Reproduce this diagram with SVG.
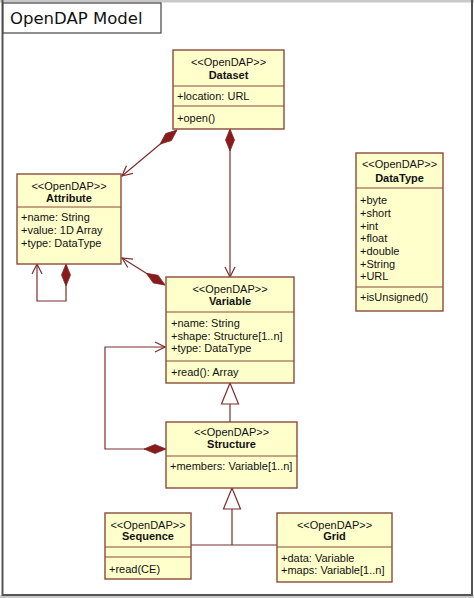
<svg xmlns="http://www.w3.org/2000/svg" width="474" height="598" viewBox="0 0 474 598">
<style>
.box{fill:#FFFFCC;stroke:#8a4b3b;stroke-width:1.4}
.sep{stroke:#8a4b3b;stroke-width:1.2}
.st{font-family:"Liberation Sans",Arial,sans-serif;font-size:11px;fill:#111;text-anchor:middle}
.nm{font-family:"Liberation Sans",Arial,sans-serif;font-size:11px;font-weight:bold;fill:#111;text-anchor:middle}
.at{font-family:"Liberation Sans",Arial,sans-serif;font-size:11px;fill:#111}
.ln{fill:none;stroke:#7a2e2e;stroke-width:1.2}
</style>
<defs>
<marker id="dia" viewBox="0 -5 22 10" refX="0" refY="0" markerWidth="22" markerHeight="10" markerUnits="userSpaceOnUse" orient="auto">
<path d="M0,0 L11,-4.5 L22,0 L11,4.5 Z" fill="#8b1a1a" stroke="#7a2e2e" stroke-width="0.8"/>
</marker>
<marker id="arr" viewBox="-12 -6 13 12" refX="0" refY="0" markerWidth="13" markerHeight="12" markerUnits="userSpaceOnUse" orient="auto">
<path d="M-10,-5 L0,0 L-10,5" fill="none" stroke="#7a2e2e" stroke-width="1.2"/>
</marker>
<marker id="tri" viewBox="-23 -10 24 20" refX="0" refY="0" markerWidth="24" markerHeight="20" markerUnits="userSpaceOnUse" orient="auto">
<path d="M0,0 L-21,-8.5 L-21,8.5 Z" fill="#fff" stroke="#7a2e2e" stroke-width="1.2"/>
</marker>
</defs>
<rect x="0" y="0" width="474" height="598" fill="#fff"/>
<rect x="0" y="0" width="474" height="2.5" fill="#c8c8c8"/>
<rect x="0" y="595.5" width="474" height="2.5" fill="#c8c8c8"/>
<line x1="2.5" y1="0" x2="2.5" y2="596" stroke="#555" stroke-width="2"/>
<line x1="472" y1="0" x2="472" y2="596" stroke="#555" stroke-width="2"/>
<line x1="2" y1="595" x2="473" y2="595" stroke="#555" stroke-width="2"/>
<g id="title">
<rect x="3" y="3" width="158" height="30" fill="#fff" stroke="#444" stroke-width="1.2"/>
<text x="10" y="24" font-family="DejaVu Sans,Verdana,sans-serif" font-size="16.5" fill="#111">OpenDAP Model</text>
</g>
<g id="connectors">
<path class="ln" d="M177,130 L122,176" marker-start="url(#dia)" marker-end="url(#arr)"/>
<path class="ln" d="M230,129 L230,277" marker-start="url(#dia)" marker-end="url(#arr)"/>
<path class="ln" d="M165,285 L122,258" marker-start="url(#dia)" marker-end="url(#arr)"/>
<path class="ln" d="M66,264 L66,301 L37,301 L37,264" marker-start="url(#dia)" marker-end="url(#arr)"/>
<path class="ln" d="M166,449 L105,449 L105,347 L165,347" marker-start="url(#dia)" marker-end="url(#arr)"/>
<path class="ln" d="M230,422 L230,383" marker-end="url(#tri)"/>
<path class="ln" d="M191,545 L277,545"/>
<path class="ln" d="M232,545 L232,488" marker-end="url(#tri)"/>
</g>
<g id="Dataset">
<rect class="box" x="173" y="50" width="111" height="79"/>
<line class="sep" x1="173" y1="86" x2="284" y2="86"/>
<line class="sep" x1="173" y1="106" x2="284" y2="106"/>
<text class="st" x="228.5" y="66">&lt;&lt;OpenDAP&gt;&gt;</text>
<text class="nm" x="228.5" y="79">Dataset</text>
<text class="at" x="177" y="100">+location: URL</text>
<text class="at" x="177" y="122">+open()</text>
</g>
<g id="Attribute">
<rect class="box" x="17" y="174" width="104" height="90"/>
<line class="sep" x1="17" y1="207" x2="121" y2="207"/>
<text class="st" x="69" y="190">&lt;&lt;OpenDAP&gt;&gt;</text>
<text class="nm" x="69" y="202">Attribute</text>
<text class="at" x="21" y="221">+name: String</text>
<text class="at" x="21" y="234">+value: 1D Array</text>
<text class="at" x="21" y="247">+type: DataType</text>
</g>
<g id="DataType">
<rect class="box" x="356" y="153" width="87" height="158"/>
<line class="sep" x1="356" y1="188" x2="443" y2="188"/>
<line class="sep" x1="356" y1="287" x2="443" y2="287"/>
<text class="st" x="399.5" y="168">&lt;&lt;OpenDAP&gt;&gt;</text>
<text class="nm" x="399.5" y="182">DataType</text>
<text class="at" x="360" y="204">+byte</text>
<text class="at" x="360" y="217">+short</text>
<text class="at" x="360" y="230">+int</text>
<text class="at" x="360" y="242">+float</text>
<text class="at" x="360" y="255">+double</text>
<text class="at" x="360" y="268">+String</text>
<text class="at" x="360" y="280">+URL</text>
<text class="at" x="360" y="301">+isUnsigned()</text>
</g>
<g id="Variable">
<rect class="box" x="166" y="277" width="128" height="106"/>
<line class="sep" x1="166" y1="312" x2="294" y2="312"/>
<line class="sep" x1="166" y1="361" x2="294" y2="361"/>
<text class="st" x="230" y="293">&lt;&lt;OpenDAP&gt;&gt;</text>
<text class="nm" x="230" y="305">Variable</text>
<text class="at" x="171" y="327">+name: String</text>
<text class="at" x="171" y="340">+shape: Structure[1..n]</text>
<text class="at" x="171" y="352">+type: DataType</text>
<text class="at" x="171" y="376">+read(): Array</text>
</g>
<g id="Structure">
<rect class="box" x="166" y="422" width="131" height="66"/>
<line class="sep" x1="166" y1="456" x2="297" y2="456"/>
<text class="st" x="231.5" y="436">&lt;&lt;OpenDAP&gt;&gt;</text>
<text class="nm" x="231.5" y="448">Structure</text>
<text class="at" x="170" y="470">+members: Variable[1..n]</text>
</g>
<g id="Sequence">
<rect class="box" x="105" y="513" width="86" height="66"/>
<line class="sep" x1="105" y1="547" x2="191" y2="547"/>
<line class="sep" x1="105" y1="557" x2="191" y2="557"/>
<text class="st" x="148" y="529">&lt;&lt;OpenDAP&gt;&gt;</text>
<text class="nm" x="148" y="540">Sequence</text>
<text class="at" x="109" y="573">+read(CE)</text>
</g>
<g id="Grid">
<rect class="box" x="277" y="513" width="115" height="69"/>
<line class="sep" x1="277" y1="547" x2="392" y2="547"/>
<text class="st" x="334.5" y="529">&lt;&lt;OpenDAP&gt;&gt;</text>
<text class="nm" x="334.5" y="540">Grid</text>
<text class="at" x="281" y="562">+data: Variable</text>
<text class="at" x="281" y="574">+maps: Variable[1..n]</text>
</g>
</svg>
